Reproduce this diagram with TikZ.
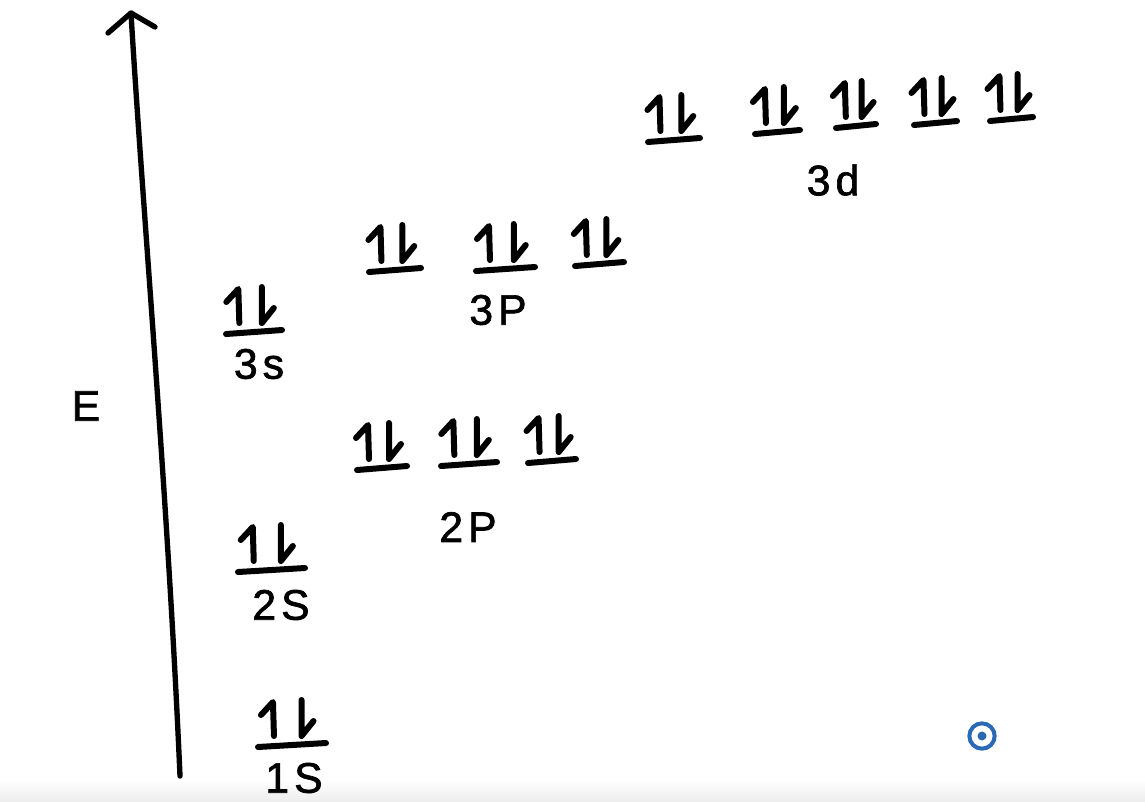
\documentclass[tikz,border=0pt]{standalone}
\usepackage{fontspec}
\setmainfont{Liberation Sans}
\newfontfamily\handfont[FakeBold=1.6,LetterSpace=12]{Liberation Sans}
\begin{document}
\begin{tikzpicture}[x=0.75pt,y=-0.75pt,
  pen/.style={line width=4.5pt,line cap=round,line join=round,black},
  axispen/.style={line width=4pt,line cap=round,line join=round,black},
  lbl/.style={font=\handfont\fontsize{32}{32}\selectfont,inner sep=0pt,anchor=center},
  icon/.style={color={rgb,255:red,42;green,106;blue,181}}]
\useasboundingbox (0,0) rectangle (1145,801);
\shade[top color=white,bottom color=black!7] (0,780) rectangle (1145,801);
\newcommand\orb[3]{%
  \pgfmathsetmacro\ux{#1+0.22*(#2-#1)}%
  \pgfmathsetmacro\dx{#1+0.64*(#2-#1)}%
  \draw[pen] (#1,#3+2) -- (#2,#3-2);
  \draw[pen] (\ux-12,#3-30) -- (\ux,#3-43) -- (\ux+1,#3-9);
  \draw[pen] (\dx,#3-45) -- (\dx,#3-9) -- (\dx+12,#3-24);
}
% energy axis
\coordinate (ab) at (180,776);
\coordinate (at) at (131,13);
\draw[axispen] (ab) .. controls (168,500) and (142,200) .. (at);
\draw[axispen] (108,33) -- (at) -- (155,27);
\node[lbl] (lE) at (86,406) {E};
% 1s
\orb{258}{326}{745}
\node[lbl] (l1s) at (294,778) {1S};
% 2s
\orb{238}{305}{570}
\node[lbl] (l2s) at (281,605) {2S};
% 3s
\orb{226}{282}{332}
\node[lbl] (l3s) at (259,364) {3s};
% 2p
\orb{357}{407}{468}
\orb{441}{497}{464}
\orb{528}{576}{461}
\node[lbl] (l2p) at (468,527) {2P};
% 3p
\orb{369}{421}{270}
\orb{476}{535}{269}
\orb{575}{624}{264}
\node[lbl] (l3p) at (498,310) {3P};
% 3d
\orb{648}{700}{140}
\orb{755}{800}{132}
\orb{836}{876}{126}
\orb{914}{957}{123}
\orb{990}{1033}{119}
\node[lbl] (l3d) at (833,180) {3d};
% icon
\node[icon,draw,line width=3pt,circle,minimum size=19pt,inner sep=0pt] (ic) at (982,736) {};
\fill[icon] (ic.center) circle (4.5);
\end{tikzpicture}
\end{document}
